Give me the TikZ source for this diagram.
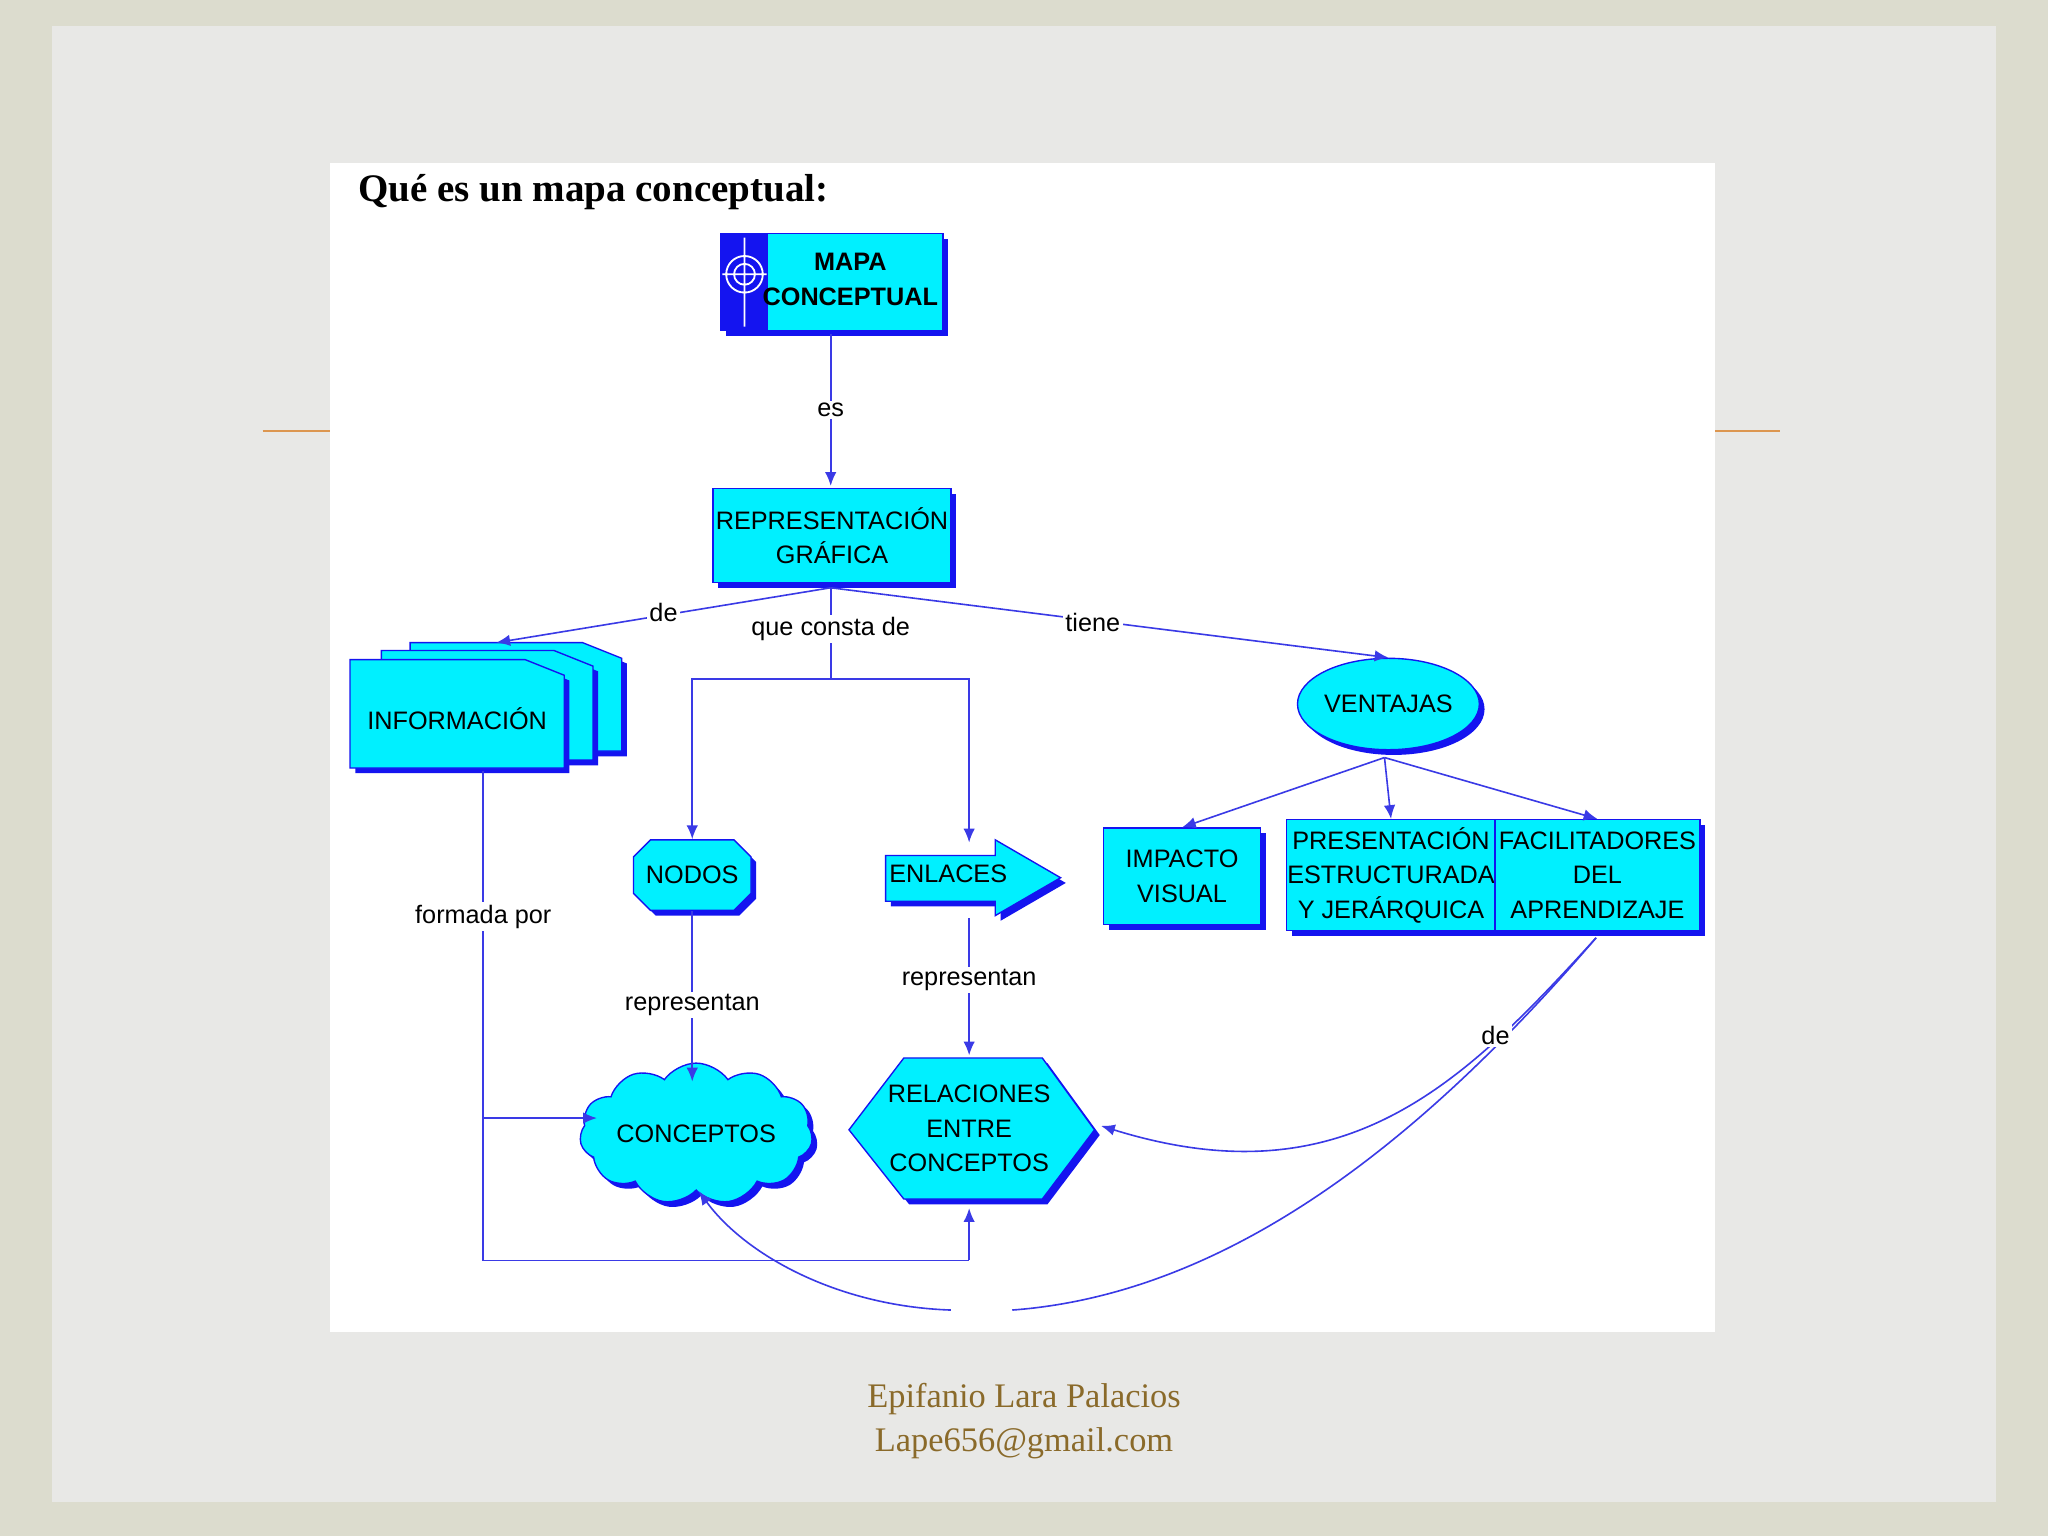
\documentclass[tikz,border=0pt]{standalone}
\usepackage{fontspec}
\setmainfont{Liberation Sans}
\newfontfamily\serifb{Liberation Serif}
\usetikzlibrary{shapes.symbols,shapes.misc,shapes.geometric,shadows,arrows.meta}
\definecolor{bl}{HTML}{1414F0}
\definecolor{cy}{HTML}{00F0FF}
\definecolor{ln}{HTML}{3A3AE6}
\definecolor{brn}{HTML}{8A6A2A}
\definecolor{bgo}{HTML}{DCDCCE}
\definecolor{bgi}{HTML}{E8E8E6}
\definecolor{org}{HTML}{DC9650}
\tikzset{
 sh/.style={drop shadow={shadow xshift=0.08cm,shadow yshift=-0.08cm,fill=bl,opacity=1}},
 box/.style={draw=bl,fill=cy,line width=0.6pt,sh,align=center,font=\fontsize{11}{15}\selectfont,inner sep=0pt},
 lbl/.style={font=\fontsize{11}{13}\selectfont,fill=white,inner sep=1pt},
 con/.style={draw=ln,line width=0.7pt},
 arr/.style={con,-{Latex[length=6pt,width=5pt]}}
}
\begin{document}
\begin{tikzpicture}[x=0.02cm,y=-0.02cm]
\useasboundingbox (0,0) rectangle (1568,1176);
\fill[bgo] (0,0) rectangle (1568,1176);
\fill[bgi] (40,20) rectangle (1528,1150);
\draw[org,line width=1pt] (201,330)--(253,330) (1313,330)--(1363,330);
\fill[white] (253,125) rectangle (1313,1020);
\node[anchor=west,font=\serifb\bfseries\fontsize{17}{20}\selectfont] (title) at (268,147) {Qué es un mapa conceptual:};
% mapa
\node[box,minimum width=3.4cm,minimum height=1.48cm] (mapa) at (637,216) {};
\fill[bl] (552,179) rectangle (588,253);
\draw[white,line width=0.8pt] (570,210) circle (14) (570,210) circle (8) (553,210)--(587,210) (570,182)--(570,250);
\node[font=\bfseries\fontsize{11}{15}\selectfont,align=center] (mapat) at (651,214) {MAPA\\CONCEPTUAL};
\node[box,minimum width=3.64cm,minimum height=1.44cm] (rep) at (637,410) {REPRESENTACIÓN\\GRÁFICA};
% informacion stack
\foreach \a/\b/\c/\d in {314/492/476/575,292/498/454/582,268/505/432/588}{
 \path[draw=bl,fill=cy,line width=0.6pt,sh] (\a,\b)--(\c-30,\b)--(\c,\b+12)--(\c,\d)--(\a,\d)--cycle;}
\node[font=\fontsize{11}{13}\selectfont] (info) at (350,550) {INFORMACIÓN};
\coordinate (infot) at (380,492);
\coordinate (infob) at (370,590);
\node[box,ellipse,minimum width=2.72cm,minimum height=1.4cm] (vent) at (1063,539) {VENTAJAS};
\node[box,minimum width=2.4cm,minimum height=1.48cm] (imp) at (905,671) {IMPACTO\\VISUAL};
\node[box,minimum width=3.2cm,minimum height=1.7cm] (pres) at (1065,670) {PRESENTACIÓN\\ESTRUCTURADA\\Y JERÁRQUICA};
\node[box,minimum width=3.14cm,minimum height=1.7cm] (fac) at (1223,670) {FACILITADORES\\DEL\\APRENDIZAJE};
\node[box,chamfered rectangle,chamfered rectangle xsep=0.2cm,minimum width=1.8cm,minimum height=1.08cm] (nodos) at (530,670) {NODOS};
\path[draw=bl,fill=cy,line width=0.6pt,sh] (678,655)--(762,655)--(762,643)--(812,672)--(762,701)--(762,690)--(678,690)--cycle;
\node[font=\fontsize{11}{13}\selectfont] (enl) at (726,669) {ENLACES};
\coordinate (enlt) at (742,645);
\coordinate (enlb) at (742,703);
\node[box,cloud,cloud puffs=11,cloud puff arc=110,aspect=2,minimum width=3.1cm,minimum height=1.75cm] (conc) at (533,868) {CONCEPTOS};
\path[draw=bl,fill=cy,line width=0.6pt,sh] (650,865)--(692,810)--(798,810)--(838,865)--(798,918)--(692,918)--cycle;
\node[align=center,font=\fontsize{11}{15}\selectfont] (rel) at (742,864) {RELACIONES\\ENTRE\\CONCEPTOS};
\coordinate (relt) at (742,808);
\coordinate (relb) at (742,925);
\coordinate (relr) at (843,862);
% connectors
\coordinate (ms) at (636,256);
\coordinate (rn) at (636,372);
\draw[arr] (ms) -- node[lbl]{es} (rn);
\coordinate (rs) at (636,450);
\draw[arr] (rs) -- node[lbl,pos=0.5,above=-4pt]{de} (infot);
\draw[arr] (rs) -- node[lbl,pos=0.47,above=-6pt]{tiene} (vent.north);
\coordinate (q) at (636,520);
\draw[con] (rs) -- node[lbl,pos=0.45]{que consta de} (q);
\draw[arr] (q) -- (530,520) -- (nodos.north);
\draw[arr] (q) -- (742,520) -- (enlt);
\coordinate (vs) at (1060,580);
\draw[arr] (vs) -- (imp.north);
\draw[arr] (vs) -- (pres.north);
\draw[arr] (vs) -- (fac.north);
\coordinate (cn) at (530,828);
\draw[arr] (nodos.south) -- node[lbl,pos=0.55]{representan} (cn);
\draw[arr] (enlb) -- node[lbl,pos=0.45]{representan} (relt);
\coordinate (c1) at (370,856);
\coordinate (c2) at (370,965);
\coordinate (c3) at (742,965);
\draw[con] (infob) -- node[lbl,pos=0.42]{formada por} (c1) -- (c2) -- (c3);
\draw[arr] (c3) -- (relb);
\coordinate (cw) at (457,856);
\draw[arr] (c1) -- (cw);
\coordinate (fb) at (1222,718);
\draw[arr] (fb) .. controls (1120,830) and (1030,920) .. (relr);
\coordinate (g1) at (775,1003);
\coordinate (g2) at (728,1003);
\draw[con] (fb) .. controls (1100,860) and (950,990) .. (g1);
\coordinate (cb) at (535,912);
\draw[arr] (g2) .. controls (640,1000) and (570,960) .. (cb);
\node[lbl] (de2) at (1145,793) {de};
% footer
\node[align=center,text=brn,font=\serifb\fontsize{15}{19}\selectfont] (foot) at (784,1088) {Epifanio Lara Palacios\\Lape656@gmail.com};
\end{tikzpicture}
\end{document}
